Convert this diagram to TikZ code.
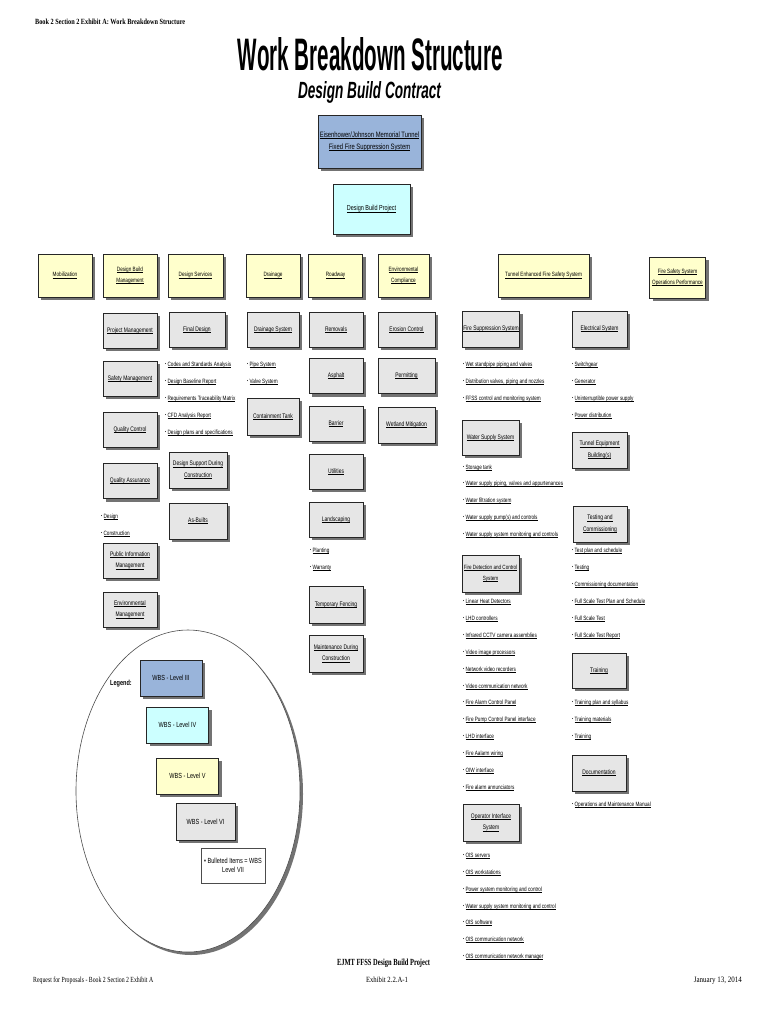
\documentclass[tikz,border=0pt]{standalone}
\usepackage{fontspec}
\setmainfont{Liberation Sans}
\newfontfamily\narrowfont{Liberation Sans}[FakeStretch=0.75]
\newfontfamily\timesfont{Liberation Serif}
\usetikzlibrary{shadows,shapes.geometric}

\definecolor{wbsblue}{RGB}{153,180,218}
\definecolor{wbscyan}{RGB}{204,255,255}
\definecolor{wbsyellow}{RGB}{255,255,204}
\definecolor{wbsgray}{RGB}{230,230,230}
\definecolor{wbsshadow}{RGB}{115,115,115}

\newsavebox\lnkbox
\newcommand{\lnk}[1]{\sbox\lnkbox{#1}\rlap{\raisebox{-1.6pt}{\rule{\wd\lnkbox}{0.8pt}}}\usebox\lnkbox}
\newcommand{\bul}{\raisebox{1pt}{\fontsize{4.5}{4.5}\selectfont\textbullet}\hspace{1.2pt}}

\tikzset{
    wbsbox/.style={draw=black!85, line width=0.5pt, inner sep=1pt, align=center,
        minimum width=54pt, minimum height=35pt,
        drop shadow={shadow xshift=3pt, shadow yshift=-3pt, fill=wbsshadow, opacity=1},
        font=\narrowfont\fontsize{6.6}{11.5}\selectfont},
    lvlthree/.style={wbsbox, fill=wbsblue},
    lvlfour/.style={wbsbox, fill=wbscyan},
    lvlfive/.style={wbsbox, fill=wbsyellow, minimum height=43pt, font=\narrowfont\fontsize{6.2}{11.5}\selectfont},
    lvlsix/.style={wbsbox, fill=wbsgray},
    legendbox/.style={minimum width=62pt, minimum height=36pt, font=\narrowfont\fontsize{7.4}{9.5}\selectfont},
    item/.style={anchor=west, inner sep=0pt, font=\narrowfont\fontsize{6.2}{7}\selectfont}
}

\begin{document}
\begin{tikzpicture}[x=1pt, y=-1pt]
    \useasboundingbox[fill=white] (0,0) rectangle (768,1024);

    % heading
    \node[anchor=base west, inner sep=0] (hd) at (35,25)
        {\timesfont\resizebox{150pt}{5.5pt}{\bfseries Book 2 Section 2 Exhibit A: Work Breakdown Structure}};
    \node[anchor=base, inner sep=0] (ttl) at (370.5,71)
        {\resizebox{265pt}{33pt}{\bfseries Work Breakdown Structure}};
    \node[anchor=base, inner sep=0] (sub) at (369.5,99)
        {\resizebox{143pt}{17pt}{\bfseries\itshape Design Build Contract}};

    % level III and IV
    \node[lvlthree, minimum width=103pt, minimum height=53pt, font=\narrowfont\fontsize{7.8}{12}\selectfont]
        (l3) at (369.5,141.5) {\lnk{Eisenhower/Johnson Memorial Tunnel}\\\lnk{Fixed Fire Suppression System}};
    \node[lvlfour, minimum width=77pt, minimum height=50pt, font=\narrowfont\fontsize{7.3}{11}\selectfont]
        (l4) at (371.5,209) {\lnk{Design Build Project}};

    % level V
    \node[lvlfive] (v0) at (65,275.5) {\lnk{Mobilization}};
    \node[lvlfive] (v1) at (130,275.5) {\lnk{Design Build}\\\lnk{Management}};
    \node[lvlfive, minimum width=55pt] (v2) at (195.5,275.5) {\lnk{Design Services}};
    \node[lvlfive] (v3) at (273,275.5) {\lnk{Drainage}};
    \node[lvlfive] (v4) at (335.5,275.5) {\lnk{Roadway}};
    \node[lvlfive, minimum width=51pt] (v5) at (403.5,275.5) {\lnk{Environmental}\\\lnk{Compliance}};
    \node[lvlfive, minimum width=91pt] (v6) at (543.5,275.5) {\lnk{Tunnel Enhanced Fire Safety System}};
    \node[lvlfive, minimum width=56pt, minimum height=41pt] (v7) at (677.5,277.5)
        {\lnk{Fire Safety System}\\\lnk{Operations Performance}};

    % level VI - design build management
    \node[lvlsix] (ba0) at (130,330.5) {\lnk{Project Management}};
    \node[lvlsix] (ba1) at (130,378.5) {\lnk{Safety Management}};
    \node[lvlsix] (ba2) at (130,429.5) {\lnk{Quality Control}};
    \node[lvlsix] (ba3) at (130,481) {\lnk{Quality Assurance}};
    \node[item] (ia0) at (101,517) {\bul\lnk{Design}};
    \node[item] (ia1) at (101,534) {\bul\lnk{Construction}};
    \node[lvlsix] (ba4) at (130,560.5) {\lnk{Public Information}\\\lnk{Management}};
    \node[lvlsix] (ba5) at (130,609.5) {\lnk{Environmental}\\\lnk{Management}};

    % level VI - design services
    \node[lvlsix, minimum width=56pt] (bb0) at (197,329.5) {\lnk{Final Design}};
    \node[item] (ib0) at (165,365) {\bul\lnk{Codes and Standards Analysis}};
    \node[item] (ib1) at (165,382) {\bul\lnk{Design Baseline Report}};
    \node[item] (ib2) at (165,399) {\bul\lnk{Requirements Traceability Matrix}};
    \node[item] (ib3) at (165,416) {\bul\lnk{CFD Analysis Report}};
    \node[item] (ib4) at (165,433) {\bul\lnk{Design plans and specifications}};
    \node[lvlsix, minimum width=58pt, minimum height=36pt] (bb1) at (198,470) {\lnk{Design Support During}\\\lnk{Construction}};
    \node[lvlsix, minimum width=58pt, minimum height=36pt] (bb2) at (198,521) {\lnk{As-Builts}};

    % level VI - drainage
    \node[lvlsix, minimum width=52pt] (bc0) at (273,329.5) {\lnk{Drainage System}};
    \node[item] (ic0) at (247,365) {\bul\lnk{Pipe System}};
    \node[item] (ic1) at (247,382) {\bul\lnk{Valve System}};
    \node[lvlsix, minimum width=52pt, minimum height=37pt] (bc1) at (273,416.5) {\lnk{Containment Tank}};

    % level VI - roadway
    \node[lvlsix] (bd0) at (336,329.5) {\lnk{Removals}};
    \node[lvlsix] (bd1) at (336,376) {\lnk{Asphalt}};
    \node[lvlsix] (bd2) at (336,423.5) {\lnk{Barrier}};
    \node[lvlsix] (bd3) at (336,471.5) {\lnk{Utilities}};
    \node[lvlsix] (bd4) at (336,519.5) {\lnk{Landscaping}};
    \node[item] (id0) at (310,551) {\bul\lnk{Planting}};
    \node[item] (id1) at (310,568) {\bul\lnk{Warranty}};
    \node[lvlsix, minimum height=37pt] (bd5) at (336,604.5) {\lnk{Temporary Fencing}};
    \node[lvlsix, minimum height=37pt] (bd6) at (336,653.5) {\lnk{Maintenance During}\\\lnk{Construction}};

    % level VI - environmental compliance
    \node[lvlsix, minimum width=57pt] (be0) at (406.5,329.5) {\lnk{Erosion Control}};
    \node[lvlsix, minimum width=57pt] (be1) at (406.5,376) {\lnk{Permitting}};
    \node[lvlsix, minimum width=57pt, minimum height=36pt] (be2) at (406.5,425) {\lnk{Wetland Mitigation}};

    % level VI - tunnel enhanced fire safety system, left
    \node[lvlsix, minimum width=57pt, minimum height=36pt] (bf0) at (491,329) {\lnk{Fire Suppression System}};
    \node[item] (if0) at (463,365) {\bul\lnk{Wet standpipe piping and valves}};
    \node[item] (if1) at (463,382) {\bul\lnk{Distribution valves, piping and nozzles}};
    \node[item] (if2) at (463,399) {\bul\lnk{FFSS control and monitoring system}};
    \node[lvlsix, minimum width=57pt] (bf1) at (490.5,437.5) {\lnk{Water Supply System}};
    \node[item] (if3) at (463,468) {\bul\lnk{Storage tank}};
    \node[item] (if4) at (463,484) {\bul\lnk{Water supply piping, valves and appurtenances}};
    \node[item] (if5) at (463,501) {\bul\lnk{Water filtration system}};
    \node[item] (if6) at (463,518) {\bul\lnk{Water supply pump(s) and controls}};
    \node[item] (if7) at (463,535) {\bul\lnk{Water supply system monitoring and controls}};
    \node[lvlsix, minimum width=57pt, minimum height=37pt, font=\narrowfont\fontsize{6.1}{11.5}\selectfont]
        (bf2) at (490.5,573.5) {\lnk{Fire Detection and Control}\\\lnk{System}};
    \node[item] (if8) at (463,602) {\bul\lnk{Linear Heat Detectors}};
    \node[item] (if9) at (463,619) {\bul\lnk{LHD controllers}};
    \node[item] (if10) at (463,636) {\bul\lnk{Infrared CCTV camera assemblies}};
    \node[item] (if11) at (463,653) {\bul\lnk{Video image processors}};
    \node[item] (if12) at (463,670) {\bul\lnk{Network video recorders}};
    \node[item] (if13) at (463,687) {\bul\lnk{Video communication network}};
    \node[item] (if14) at (463,703) {\bul\lnk{Fire Alarm Control Panel}};
    \node[item] (if15) at (463,720) {\bul\lnk{Fire Pump Control Panel interface}};
    \node[item] (if16) at (463,737) {\bul\lnk{LHD interface}};
    \node[item] (if17) at (463,754) {\bul\lnk{Fire Aalarm wiring}};
    \node[item] (if18) at (463,771) {\bul\lnk{OIW interface}};
    \node[item] (if19) at (463,788) {\bul\lnk{Fire alarm annunciators}};
    \node[lvlsix, minimum width=56pt, minimum height=37pt] (bf3) at (491,822.5) {\lnk{Operator Interface}\\\lnk{System}};
    \node[item] (if20) at (463,856) {\bul\lnk{OIS servers}};
    \node[item] (if21) at (463,873) {\bul\lnk{OIS workstations}};
    \node[item] (if22) at (463,890) {\bul\lnk{Power system monitoring and control}};
    \node[item] (if23) at (463,907) {\bul\lnk{Water supply system monitoring and control}};
    \node[item] (if24) at (463,923) {\bul\lnk{OIS software}};
    \node[item] (if25) at (463,940) {\bul\lnk{OIS communication network}};
    \node[item] (if26) at (463,957) {\bul\lnk{OIS communication network manager}};

    % level VI - tunnel enhanced fire safety system, right
    \node[lvlsix, minimum width=55pt, minimum height=36pt] (bg0) at (599.5,329) {\lnk{Electrical System}};
    \node[item] (ig0) at (572,365) {\bul\lnk{Switchgear}};
    \node[item] (ig1) at (572,382) {\bul\lnk{Generator}};
    \node[item] (ig2) at (572,399) {\bul\lnk{Uninterruptible power supply}};
    \node[item] (ig3) at (572,416) {\bul\lnk{Power distribution}};
    \node[lvlsix, minimum width=55pt, minimum height=36pt] (bg1) at (599.5,450) {\lnk{Tunnel Equipment}\\\lnk{Building(s)}};
    \node[lvlsix, minimum width=54pt, minimum height=36pt] (bg2) at (600,524) {\lnk{Testing and}\\\lnk{Commissioning}};
    \node[item] (ig4) at (572,551) {\bul\lnk{Test plan and schedule}};
    \node[item] (ig5) at (572,568) {\bul\lnk{Testing}};
    \node[item] (ig6) at (572,585) {\bul\lnk{Commissioning documentation}};
    \node[item] (ig7) at (572,602) {\bul\lnk{Full Scale Test Plan and Schedule}};
    \node[item] (ig8) at (572,619) {\bul\lnk{Full Scale Test}};
    \node[item] (ig9) at (572,636) {\bul\lnk{Full Scale Test Report}};
    \node[lvlsix, minimum width=54pt] (bg3) at (599,670.5) {\lnk{Training}};
    \node[item] (ig10) at (572,703) {\bul\lnk{Training plan and syllabus}};
    \node[item] (ig11) at (572,720) {\bul\lnk{Training materials}};
    \node[item] (ig12) at (572,737) {\bul\lnk{Training}};
    \node[lvlsix, minimum width=54pt, minimum height=36pt] (bg4) at (599,773) {\lnk{Documentation}};
    \node[item] (ig13) at (572,805) {\bul\lnk{Operations and Maintenance Manual}};

    % legend
    \node[ellipse, draw=black!70, line width=0.6pt, fill=white, minimum width=224pt, minimum height=322pt,
        drop shadow={shadow xshift=3pt, shadow yshift=-3pt, fill=wbsshadow, opacity=1}] (lg) at (188,791) {};
    \node[font=\narrowfont\bfseries\fontsize{7.4}{9}\selectfont] (lgt) at (121,684) {Legend:};
    \node[lvlthree, legendbox] (g3) at (171,678) {WBS - Level III};
    \node[lvlfour, legendbox] (g4) at (177.5,725) {WBS - Level IV};
    \node[lvlfive, legendbox] (g5) at (187.5,776) {WBS - Level V};
    \node[lvlsix, legendbox, minimum width=59pt, minimum height=37pt] (g6) at (205.5,821.5) {WBS - Level VI};
    \node[draw=black!70, line width=0.5pt, fill=white, legendbox, align=center, minimum height=35pt]
        (g7) at (233,865.5) {\textbullet\ Bulleted Items = WBS\\Level VII};

    % footer
    \node[anchor=base, inner sep=0] (ft0) at (383.5,965)
        {\timesfont\resizebox{93pt}{6.5pt}{\bfseries EJMT FFSS Design Build Project}};
    \node[anchor=base west, inner sep=0] (ft1) at (33,982)
        {\timesfont\resizebox{120pt}{5.5pt}{Request for Proposals - Book 2 Section 2 Exhibit A}};
    \node[anchor=base, inner sep=0] (ft2) at (387,982)
        {\timesfont\resizebox{42pt}{5.5pt}{Exhibit 2.2.A-1}};
    \node[anchor=base east, inner sep=0] (ft3) at (742,982)
        {\timesfont\resizebox{48pt}{5.5pt}{January 13, 2014}};
\end{tikzpicture}
\end{document}
